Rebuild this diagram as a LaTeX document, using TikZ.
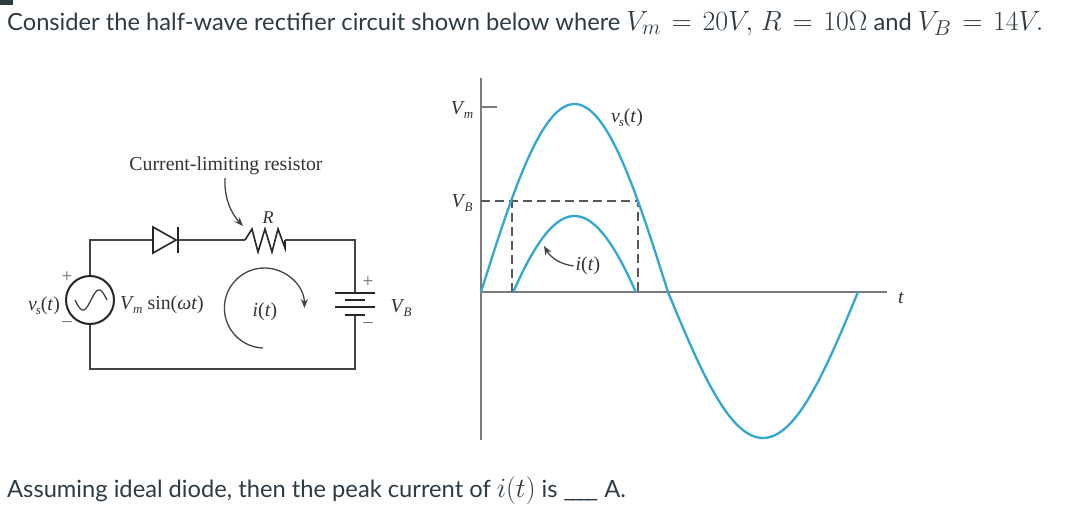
\documentclass[tikz,border=0pt]{standalone}
\usepackage{fix-cm}
\usepackage{fontspec}
\usepackage{amsmath}
\setmainfont{Lato}
\newfontfamily\figfont{Liberation Serif}
\usetikzlibrary{calc,positioning,arrows.meta,decorations.pathmorphing}
\DeclareMathSizes{27.8}{27.8}{21.5}{15}
\definecolor{inktext}{HTML}{2D3B45}
\definecolor{wavecol}{HTML}{2FA8D5}
\definecolor{axiscol}{HTML}{7A7A7A}
\definecolor{wirecol}{HTML}{444444}
\thickmuskip=7mu
\thinmuskip=5mu
\newcommand{\qmath}[1]{{\fontsize{27.8}{30}\selectfont$#1$}}
\newcommand{\lsub}[2]{\textit{#1}\kern-1pt\raisebox{-3.5pt}{\fontsize{13}{13}\selectfont\textit{#2}}}
\tikzset{%
  >={Stealth[length=9pt,width=7pt]},
  qtext/.style={anchor=base west,inner sep=0pt,text=inktext,font=\fontsize{23.7}{28}\selectfont},
  lab/.style={inner sep=0pt,text=black!80,font=\figfont\fontsize{19.8}{23}\selectfont},
  sign/.style={inner sep=0pt,text=black!60,font=\figfont\fontsize{19}{19}\selectfont},
  wire/.style={draw=wirecol,line width=1.3pt},
  plate/.style={draw=black!85,line width=2pt},
  axisline/.style={draw=axiscol,line width=1.9pt},
  wave/.style={draw=wavecol,line width=2.3pt},
  guide/.style={draw=black!65,line width=1.2pt,dash pattern=on 9pt off 5pt}
}
\begin{document}
\begin{tikzpicture}[x=1pt,y=-1pt]
	\useasboundingbox (0,0) rectangle (1067,515);
	\fill[inktext] (0,0) rectangle (13,5);
	% question text
	\node[qtext] (qtop) at (7,30) {Consider the half-wave rectifier circuit shown below where \qmath{V_m=20V,R=10\Omega} and \qmath{V_B=14V.}};
	\node[qtext] (qbot) at (7,497) {Assuming ideal diode, then the peak current of \qmath{i(t)} is \_\kern-3pt\_\kern-3pt\_\kern-3pt\_ A.};

	% circuit
	\node[circle,draw=black!85,line width=2pt,minimum size=48pt,inner sep=0pt] (src) at (90,300) {};
	\coordinate (tl) at (90,240);
	\coordinate (tr) at (355,240);
	\coordinate (bl) at (90,369);
	\coordinate (br) at (355,369);
	\coordinate (dioa) at (153,240);
	\coordinate (dioc) at (178,240);
	\coordinate (resa) at (245,240);
	\coordinate (resb) at (285,240);
	\coordinate (battop) at (355,293);
	\coordinate (batbot) at (355,315);
	\draw[wire] (src.north) -- (tl) -- (dioa);
	\draw[wire] (dioc) -- (resa);
	\draw[plate,line width=1.6pt] (resa) -- (252,229) -- (258,252) -- (265,229) -- (272,252) -- (278,229) -- (285,248) -- (resb);
	\draw[wire] (resb) -- (tr) -- (battop);
	\draw[wire] (batbot) -- (br) -- (bl) -- (src.south);
	\draw[plate,line width=1.6pt] (153,227) -- (153,253) -- (176,240) -- cycle;
	\draw[plate] (178,227) -- (178,253);
	\draw[plate] (335,293) -- (375,293);
	\draw[plate] (345,300) -- (365,300);
	\draw[plate] (335,307) -- (375,307);
	\draw[plate] (345,315) -- (365,315);
	\draw[draw=black!75,line width=1.3pt] plot[domain=-16:16,samples=40,smooth] ({91+\x},{300-10*sin(\x*360/32)});
	\draw[wire,->] (263,348) arc[start angle=92,end angle=360,radius=40];

	\node[lab] (lblcur) at (226,166) {Current-limiting resistor};
	\coordinate (restip) at (243,226);
	\draw[wire,->] (225,178) .. controls (224,198) and (231,213) .. (restip);
	\node[lab,font=\figfont\itshape\fontsize{18}{20}\selectfont] (lblr) at (268,218) {R};
	\node[lab] (lblvs) at (44,306) {\lsub{v}{s}(\textit{t})};
	\node[lab] (lblvm) at (162,305) {\lsub{V}{m} sin(\textit{ωt})};
	\node[lab] (lblit) at (265,312) {\textit{i}(\textit{t})};
	\node[lab] (lblvb) at (401,308) {\lsub{V}{B}};
	\node[sign] (lblsp) at (67,277) {+};
	\node[sign] (lblsm) at (67,324) {–};
	\node[sign] (lblbp) at (368,282) {+};
	\node[sign] (lblbm) at (368,325) {–};

	% waveforms
	\coordinate (org) at (481,292);
	\coordinate (axtop) at (481,78);
	\coordinate (axbot) at (481,440);
	\coordinate (axend) at (887,292);
	\coordinate (vmtick) at (497,107);
	\coordinate (vbl) at (481,201);
	\coordinate (vbr) at (638,201);
	\coordinate (ion) at (512,292);
	\coordinate (ioff) at (638,292);
	\draw[axisline] (axtop) -- (axbot);
	\draw[axisline] (org) -- (axend);
	\draw[axisline] (481,107) -- (vmtick);
	\draw[guide] (vbl) -- (vbr) -- (ioff);
	\draw[guide] (ion) -- (ion |- vbl);
	\draw[wave] plot[domain=0:180,samples=60,smooth] ({481+\x/180*187},{292-188*sin(\x)});
	\draw[wave] plot[domain=0:180,samples=60,smooth] ({668+\x/180*190},{292+146*sin(\x)});
	\draw[wave] plot[domain=31:149,samples=40,smooth] ({481+\x/180*187},{292-76*(sin(\x)-0.515)/0.485});

	\node[lab] (lblgvm) at (462,110) {\lsub{V}{m}};
	\node[lab] (lblgvb) at (462,203) {\lsub{V}{B}};
	\node[lab] (lblgvs) at (627,118) {\lsub{v}{s}(\textit{t})};
	\node[lab] (lblgit) at (588,266) {\textit{i}(\textit{t})};
	\node[lab] (lblgt) at (901,298) {\textit{t}};
	\coordinate (itip) at (544,246);
	\draw[wire,->] (lblgit.west) ++(-2,0) .. controls (560,264) and (551,258) .. (itip);
\end{tikzpicture}
\end{document}
